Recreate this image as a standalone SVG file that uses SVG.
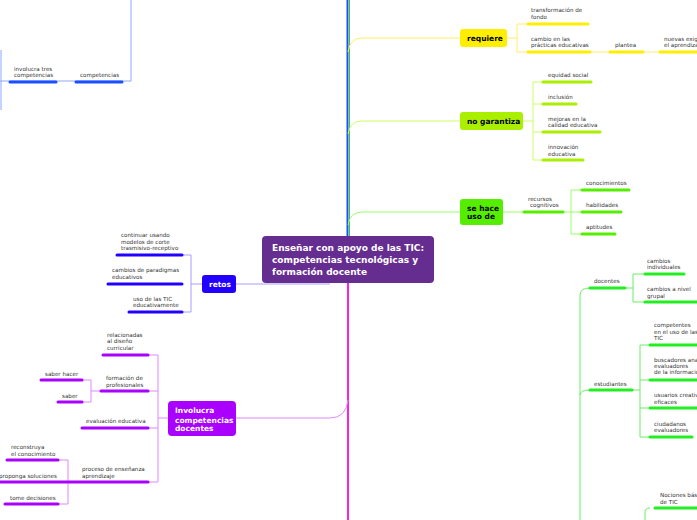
<svg xmlns="http://www.w3.org/2000/svg" width="697" height="520" viewBox="0 0 697 520">
<style>
text{font-family:"DejaVu Sans",Verdana,sans-serif;font-size:5.6px;fill:#333}
.b{font-weight:bold;font-size:7.5px;fill:#000}
.w{font-weight:bold;font-size:7.5px;fill:#fff}
.c{font-weight:bold;font-size:9px;fill:#fff}
path{fill:none}
.ul{stroke-width:3;stroke-linecap:round}
</style>
<rect width="697" height="520" fill="#fff"/>
<g id="connectors">
<path d="M131,0 V81 H0" stroke="#8fa8ff" stroke-width="1"/>
<path d="M1,50 V110" stroke="#8fa8ff" stroke-width="1"/>
<path d="M349.5,0 V240" stroke="#33cc33" stroke-width="1"/>
<path d="M347.5,0 V240" stroke="#1a4fff" stroke-width="2"/>
<path d="M348,283 V520" stroke="#ff22dd" stroke-width="2"/>
<path d="M348,52 Q350,38 362,38 H460" stroke="#ffee66" stroke-width="1"/>
<path d="M348,134 Q350,121 362,121 H460" stroke="#ccff66" stroke-width="1"/>
<path d="M348,225 Q350,212 362,212 H460" stroke="#99ff66" stroke-width="1"/>
<path d="M348,400 Q346,418 330,418 H236" stroke="#dd88ff" stroke-width="1"/>
<path d="M236,284 H330" stroke="#a99cff" stroke-width="1"/>
<path d="M507,38 H517 M517,24 V52 M517,24 H528 M517,52 H528 M590,52 H610 M643,52 H660" stroke="#ffee66" stroke-width="1"/>
<path d="M523,121 H533 M533,82 V160 M533,82 H543 M533,104 H543 M533,132 H543 M533,160 H543" stroke="#ccff66" stroke-width="1"/>
<path d="M503,212 H524 M563,212 H571 M571,190 V234 M571,190 H582 M571,212 H582 M571,234 H582" stroke="#99ff66" stroke-width="1"/>
<path d="M580,520 V295 Q580,288 590,288 M580,395 Q580,390 590,390 M625,288 H633 M633,274 V302 M633,274 H645 M633,302 H645 M632,390 H640 M640,345 V437 M640,345 H650 M640,380 H650 M640,408 H650 M640,437 H650 M645,520 V512 Q645,508 650,508" stroke="#66ee66" stroke-width="1"/>
<path d="M202,284 H191 M191,255 V312 M191,255 H181 M191,312 H181" stroke="#a99cff" stroke-width="1"/>
<path d="M168,418 H158 M158,355 V482 M158,355 H148 M158,391 H148 M158,428 H148 M158,482 H148 M101,391 H91 M91,380 V402 M91,380 H82 M91,402 H82 M77,482 H68 M68,460 V504 M68,460 H58 M68,504 H58" stroke="#dd88ff" stroke-width="1"/>
</g>
<g id="underlines">
<g stroke="#1a4fff" class="ul"><path d="M10,82 H56 M76,82 H122"/></g>
<g stroke="#2200ff" class="ul"><path d="M117,255 H182 M108,284 H182 M129,312 H182"/></g>
<g stroke="#aa00ff" class="ul"><path d="M103,355 H148 M101,391 H148 M82,428 H148 M41,380 H82 M58,402 H82 M7,460 H58 M0,482 H148 M5,504 H58"/></g>
<g stroke="#ffee00" class="ul"><path d="M528,24 H588 M528,52 H590 M610,52 H643 M660,52 H697"/></g>
<g stroke="#aaee00" class="ul"><path d="M543,82 H591 M543,104 H576 M543,132 H600 M543,160 H583"/></g>
<g stroke="#55ee00" class="ul"><path d="M524,212 H563 M582,190 H629 M582,212 H621 M582,234 H615"/></g>
<g stroke="#22ee22" class="ul"><path d="M590,288 H625 M590,390 H632 M645,274 H684 M645,302 H697 M650,345 H697 M650,380 H697 M650,408 H697 M650,437 H692 M655,508 H697"/></g>
</g>
<g id="center"><rect x="262" y="236" width="172" height="47" rx="4" fill="#662d91"/>
<text class="c" x="272" y="251">Enseñar con apoyo de las TIC:</text><text class="c" x="272" y="263">competencias tecnológicas y</text><text class="c" x="272" y="275">formación docente</text></g>
<g id="requiere"><rect x="460" y="29" width="47" height="18" rx="3" fill="#ffee00"/><text class="b" x="467" y="41">requiere</text></g>
<g id="nogarantiza"><rect x="460" y="112" width="63" height="18" rx="3" fill="#aaee00"/><text class="b" x="467" y="124">no garantiza</text></g>
<g id="sehace"><rect x="460" y="199" width="43" height="26" rx="3" fill="#55ee00"/><text class="b" x="467" y="211">se hace</text><text class="b" x="467" y="219">uso de</text></g>
<g id="retos"><rect x="202" y="275" width="34" height="18" rx="3" fill="#2200ff"/><text class="w" x="209" y="287">retos</text></g>
<g id="involucra"><rect x="168" y="401" width="68" height="35" rx="4" fill="#aa00ff"/><text class="w" x="175" y="413">Involucra</text><text class="w" x="175" y="423">competencias</text><text class="w" x="175" y="431">docentes</text></g>
<g id="labels">
<text x="14" y="71">involucra tres</text><text x="14" y="77">competencias</text><text x="80" y="77">competencias</text>
<text x="121" y="237">continuar usando</text><text x="121" y="244">modelos de corte</text><text x="121" y="250">trasmisivo-receptivo</text>
<text x="112" y="272">cambios de paradigmas</text><text x="112" y="279">educativos</text>
<text x="133" y="301">uso de las TIC</text><text x="133" y="307">educativamente</text>
<text x="107" y="337">relacionadas</text><text x="107" y="343">al diseño</text><text x="107" y="350">curricular</text>
<text x="106" y="380">formación de</text><text x="106" y="387">profesionales</text>
<text x="45" y="376">saber hacer</text><text x="62" y="398">saber</text>
<text x="86" y="423">evaluación educativa</text>
<text x="11" y="449">reconstruya</text><text x="11" y="456">el conocimiento</text>
<text x="82" y="471">proceso de enseñanza</text><text x="82" y="478">aprendizaje</text>
<text x="-1" y="478">proponga soluciones</text><text x="10" y="500">tome decisiones</text>
<text x="531" y="12">transformación de</text><text x="531" y="19">fondo</text>
<text x="531" y="41">cambio en las</text><text x="531" y="47">prácticas educativas</text>
<text x="615" y="47">plantea</text><text x="664" y="41">nuevas exigencias</text><text x="664" y="47">el aprendizaje</text>
<text x="548" y="77">equidad social</text><text x="548" y="99">inclusión</text>
<text x="548" y="121">mejoras en la</text><text x="548" y="127">calidad educativa</text>
<text x="548" y="149">innovación</text><text x="548" y="156">educativa</text>
<text x="528" y="201">recursos</text><text x="530" y="207">cognitivos</text>
<text x="586" y="185">conocimientos</text><text x="586" y="207">habilidades</text><text x="586" y="229">aptitudes</text>
<text x="594" y="283">docentes</text>
<text x="647" y="263">cambios</text><text x="647" y="269">individuales</text>
<text x="647" y="291">cambios a nivel</text><text x="647" y="298">grupal</text>
<text x="594" y="386">estudiantes</text>
<text x="654" y="327">competentes</text><text x="654" y="334">en el uso de las</text><text x="654" y="340">TIC</text>
<text x="654" y="362">buscadores  analizadores</text><text x="654" y="368">evaluadores</text><text x="654" y="374">de la información</text>
<text x="654" y="397">usuarios creativos</text><text x="654" y="404">eficaces</text>
<text x="654" y="426">ciudadanos</text><text x="654" y="432">evaluadores</text>
<text x="660" y="497">Nociones básicas</text><text x="660" y="504">de TIC</text>
</g>
</svg>
